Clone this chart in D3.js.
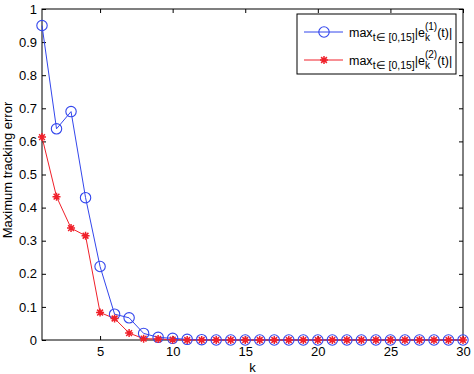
<!DOCTYPE html>
<html><head><meta charset="utf-8">
<script src="https://cdn.jsdelivr.net/npm/d3@7"></script>
<style>body{margin:0;background:#fff}text{font-family:"Liberation Sans",Arial,sans-serif}</style>
</head><body>
<svg id="c" width="474" height="374"></svg>
<script>
const ks = d3.range(1, 31);
const e1 = [0.950,0.638,0.690,0.430,0.222,0.078,0.067,0.020,0.008,0.005,0.002,0.001,0,0,0,0,0,0,0,0,0,0,0,0,0,0,0,0,0,0];
const e2 = [0.613,0.433,0.338,0.315,0.083,0.065,0.021,0.004,0.003,0.001,0,0,0,0,0,0,0,0,0,0,0,0,0,0,0,0,0,0,0,0];
const xTicks = [5,10,15,20,25,30];
const yTicks = [0,0.1,0.2,0.3,0.4,0.5,0.6,0.7,0.8,0.9,1];
const yTickLabels = ["0","0.1","0.2","0.3","0.4","0.5","0.6","0.7","0.8","0.9","1"];
const seriesNames = ["(1)","(2)"];

const L=42,R=463,T=9,B=340;
const svg=d3.select("#c");
const x=d3.scaleLinear().domain([1,30]).range([L,R]);
const y=d3.scaleLinear().domain([0,1]).range([B,T]);
const fs=13;

// axes
const ax=svg.append("g").attr("transform",`translate(0,${B})`).call(d3.axisBottom(x).tickValues(xTicks).tickSize(-4).tickPadding(7).tickFormat(d3.format("d")));
const axT=svg.append("g").attr("transform",`translate(0,${T})`).call(d3.axisTop(x).tickValues(xTicks).tickSize(-4).tickFormat(""));
const ay=svg.append("g").attr("transform",`translate(${L},0)`).call(d3.axisLeft(y).tickValues(yTicks).tickSize(-4).tickPadding(5).tickFormat((d,i)=>yTickLabels[i]));
const ayR=svg.append("g").attr("transform",`translate(${R},0)`).call(d3.axisRight(y).tickValues(yTicks).tickSize(-4).tickFormat(""));
[ax,axT,ay,ayR].forEach(g=>{g.select(".domain").remove();g.selectAll("line").attr("stroke","#000");g.selectAll("text").attr("font-size",fs).attr("fill","#000").style("font-family",'"Liberation Sans",Arial,sans-serif');});
svg.append("rect").attr("x",L).attr("y",T).attr("width",R-L).attr("height",B-T).attr("fill","none").attr("stroke","#000");

// labels
svg.append("text").attr("x",(L+R)/2).attr("y",372).attr("text-anchor","middle").attr("font-size",fs).text("k");
svg.append("text").attr("transform",`translate(12,170) rotate(-90)`).attr("text-anchor","middle").attr("font-size",fs).text("Maximum tracking error");

const blue="#3346ec", red="#f0202a";
const line=d3.line().x((d,i)=>x(ks[i])).y(d=>y(d));
svg.append("path").datum(e1).attr("d",line).attr("fill","none").attr("stroke",blue).attr("stroke-width",1);
svg.append("path").datum(e2).attr("d",line).attr("fill","none").attr("stroke",red).attr("stroke-width",1);

function circ(g,cx,cy){g.append("circle").attr("cx",cx).attr("cy",cy).attr("r",5.2).attr("fill","none").attr("stroke",blue).attr("stroke-width",1.1);}
function star(g,cx,cy){const s=4,d=s*0.72;const p=`M${cx-s},${cy}L${cx+s},${cy}M${cx},${cy-s}L${cx},${cy+s}M${cx-d},${cy-d}L${cx+d},${cy+d}M${cx-d},${cy+d}L${cx+d},${cy-d}`;g.append("path").attr("d",p).attr("stroke",red).attr("stroke-width",1.5).attr("fill","none");}
const mg=svg.append("g");
e1.forEach((v,i)=>circ(mg,x(ks[i]),y(v)));
e2.forEach((v,i)=>star(mg,x(ks[i]),y(v)));

// legend
const lg=svg.append("g");
lg.append("rect").attr("x",297).attr("y",14).attr("width",159).attr("height",60).attr("fill","#fff").attr("stroke","#000");
const rows=[32,60];
rows.forEach((ry,i)=>{
  const col=i==0?blue:red;
  lg.append("line").attr("x1",304).attr("x2",343).attr("y1",ry).attr("y2",ry).attr("stroke",col);
  if(i==0) circ(lg,324,ry); else star(lg,324,ry);
  let cx=349;
  const base=ry+5;
  function txt(s,xx,yy,size){const t=lg.append("text").attr("x",xx).attr("y",yy).attr("font-size",size).text(s);return t.node().getComputedTextLength();}
  cx+=txt("max",cx,base,12.5);
  cx+=txt("t\u2208 [0,15]",cx,base+4,10.5);
  cx+=txt("|e",cx,base,12.5);
  const w1=txt(seriesNames[i],cx,base-7,10);
  const w2=txt("k",cx,base+4,10);
  cx+=Math.max(w1,w2);
  txt("(t)|",cx,base,12.5);
});
</script>
</body></html>
